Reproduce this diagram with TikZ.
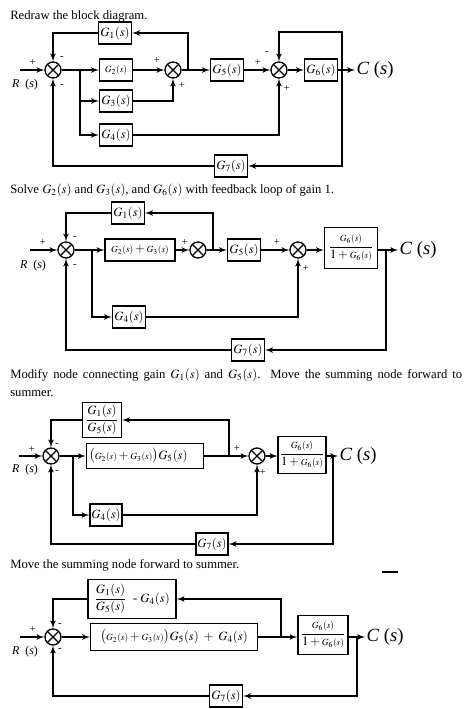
\documentclass[tikz,border=0pt]{standalone}
\usepackage{mathptmx}
\usepackage{fontspec}
\setmainfont{Liberation Serif}
\usetikzlibrary{arrows}
\tikzstyle{B} = [rectangle,
			draw, line width=1pt,
			minimum width=24.75pt, minimum height=16.5pt,
			inner sep=1pt]
\tikzstyle{S} = [circle,
			draw, line width=1pt,
			minimum size=12pt, inner sep=0pt,
			path picture={\draw[line width=1pt]
				(path picture bounding box.north west) -- (path picture bounding box.south east)
				(path picture bounding box.north east) -- (path picture bounding box.south west);}]
\tikzstyle{T} = [anchor=west, inner sep=0pt]
\tikzstyle{N} = [inner sep=0pt, font=\footnotesize]
\tikzstyle{O} = [anchor=west, inner sep=1pt, font=\fontsize{14}{16}\selectfont]
\tikzstyle{I} = [inner sep=0pt, font=\small]
\tikzstyle{L} = [draw, -latex', line width=1pt]
\newcommand{\clfrac}{$\displaystyle\frac{\scriptstyle G_6(s)}{1+{\scriptstyle G_6(s)}}$}

\begin{document}
\begin{tikzpicture}[x=0.75pt, y=-0.75pt, font=\fontsize{9.5}{11}\selectfont]

\useasboundingbox (0,0) rectangle (474,709);

% --- redraw ---
\node [T] (tta) at (10,16) {Redraw the block diagram.};

\coordinate (ina) at (20,70);
\node [S] (sa1) at (53,70) {};
\node [B] (ga1) at (115,33) {$G_1(s)$};
\node [B] (ga2) at (116,70) {$\scriptstyle G_2(s)$};
\node [B] (ga3) at (116,101) {$G_3(s)$};
\node [B] (ga4) at (116,135) {$G_4(s)$};
\node [S] (sa2) at (173,70) {};
\node [B] (ga5) at (227,70) {$G_5(s)$};
\node [S] (sa3) at (279,70) {};
\node [B] (ga6) at (321,70) {$G_6(s)$};
\node [O] (ca) at (355,70) {\textit{C}~(\textit{s})};
\node [B] (ga7) at (231,166) {$G_7(s)$};
\coordinate (ja1) at (80,70);
\coordinate (ja2) at (188,70);
\coordinate (ja3) at (342,70);
\coordinate (ja4) at (342,32);

\node [I] at (25,85) {\textit{R}\enspace(\textit{s})};
\node [N] at (33,62) {+};
\node [N] at (62,58) {-};
\node [N] at (62,86) {-};
\node [N] at (157,60) {+};
\node [N] at (182,85) {+};
\node [N] at (258,62) {+};
\node [N] at (267,53) {-};
\node [N] at (287,88) {+};

\path[L] (ina) -- (sa1);
\path[L] (sa1) -- (ga2);
\path[L] (ja1) |- (ga3);
\path[L] (ja1) |- (ga4);
\path[L] (ga2) -- (sa2);
\path[L] (ga3) -| (sa2);
\path[L] (sa2) -- (ga5);
\path[L] (ja2) |- (ga1);
\path[L] (ga1) -| (sa1);
\path[L] (ga5) -- (sa3);
\path[L] (ga4) -| (sa3);
\path[L] (sa3) -- (ga6);
\path[L] (ga6) -- (ca);
\path[L] (ja3) -- (ja4) -| (sa3);
\path[L] (ja3) |- (ga7);
\path[L] (ga7) -| (sa1);

% --- solve ---
\node [T] (ttb) at (10,190) {Solve $G_2(s)$ and $G_3(s)$, and $G_6(s)$ with feedback loop of gain 1.};

\coordinate (inb) at (30,250);
\node [S] (sb1) at (66,250) {};
\node [B] (gb1) at (128,213) {$G_1(s)$};
\node [B, minimum width=52.5pt] (gb23) at (140,250) {${\scriptstyle G_2(s)}+{\scriptstyle G_3(s)}$};
\node [S] (sb2) at (198,250) {};
\node [B] (gb5) at (244,250) {$G_5(s)$};
\node [S] (sb3) at (298,250) {};
\node [B, minimum width=39.75pt, minimum height=30.75pt] (gb6) at (351,248) {\clfrac};
\node [O] (cb) at (398,250) {\textit{C}~(\textit{s})};
\node [B] (gb4) at (129,317) {$G_4(s)$};
\node [B] (gb7) at (248,350) {$G_7(s)$};
\coordinate (jb1) at (92,250);
\coordinate (jb2) at (213,250);
\coordinate (jb3) at (386,250);

\node [I] at (33,266) {\textit{R}\enspace(\textit{s})};
\node [N] at (43,242) {+};
\node [N] at (75,238) {-};
\node [N] at (75,266) {-};
\node [N] at (185,242) {+};
\node [N] at (277,242) {+};
\node [N] at (306,268) {+};

\path[L] (inb) -- (sb1);
\path[L] (sb1) -- (gb23);
\path[L] (jb1) |- (gb4);
\path[L] (gb23) -- (sb2);
\path[L] (sb2) -- (gb5);
\path[L] (jb2) |- (gb1);
\path[L] (gb1) -| (sb1);
\path[L] (gb5) -- (sb3);
\path[L] (gb4) -| (sb3);
\path[L] (sb3) -- (sb3 -| gb6.west);
\path[L] (sb3 -| gb6.east) -- (cb);
\path[L] (jb3) |- (gb7);
\path[L] (gb7) -| (sb1);

% --- modify ---
\node [T, anchor=north west, text width=339pt, align=justify,
	font=\fontsize{9.5}{13.5}\selectfont] (ttc) at (10,369)
	{Modify node connecting gain $G_1(s)$ and $G_5(s)$. Move the summing node forward to\linebreak summer.};

\coordinate (inc) at (19,456);
\node [S] (sc1) at (51,456) {};
\node [B, minimum width=29.25pt, minimum height=26.25pt] (gc15) at (102,420) {$\displaystyle\frac{G_1(s)}{G_5(s)}$};
\node [B, text width=84pt, minimum height=18.75pt, align=left, inner sep=2pt] (gc235) at (145,456) {$\bigl({\scriptstyle G_2(s)}+{\scriptstyle G_3(s)}\bigr)G_5(s)$};
\node [S] (sc2) at (257,456) {};
\node [B, minimum width=35.25pt, minimum height=27.75pt] (gc6) at (302,455) {\clfrac};
\node [O] (cc) at (338,456) {\textit{C}~(\textit{s})};
\node [B, minimum width=21.75pt] (gc4) at (106,515) {$G_4(s)$};
\node [B, minimum width=22.5pt] (gc7) at (212,544) {$G_7(s)$};
\coordinate (jc1) at (73,456);
\coordinate (jc2) at (229,456);
\coordinate (jc3) at (333,456);

\node [I] at (25,470) {\textit{R}\enspace(\textit{s})};
\node [N] at (32,449) {+};
\node [N] at (57,445) {-};
\node [N] at (57,472) {-};
\node [N] at (237,448) {+};
\node [N] at (263,472) {+};

\path[L] (inc) -- (sc1);
\path[L] (sc1) -- (gc235);
\path[L] (jc1) |- (gc4);
\path[L] (gc235) -- (sc2);
\path[L] (jc2) |- (gc15);
\path[L] (gc15) -| (sc1);
\path[L] (gc4) -| (sc2);
\path[L] (sc2) -- (sc2 -| gc6.west);
\path[L] (sc2 -| gc6.east) -- (cc);
\path[L] (jc3) |- (gc7);
\path[L] (gc7) -| (sc1);

% --- move ---
\node [T] (ttd) at (10,565) {Move the summing node forward to summer.};
\draw [line width=1pt] (382,572) -- (398,572);

\coordinate (ind) at (20,637);
\node [S] (sd1) at (53,637) {};
\node [B, minimum width=66pt, minimum height=29.25pt] (gd15) at (132,599) {$\displaystyle\frac{G_1(s)}{G_5(s)}$\enspace- $G_4(s)$};
\node [B, minimum width=125.25pt, minimum height=20.25pt] (gd2354) at (174,637) {$\bigl({\scriptstyle G_2(s)}+{\scriptstyle G_3(s)}\bigr)G_5(s)\ +\ G_4(s)$};
\node [B, minimum width=37.5pt, minimum height=29.25pt] (gd6) at (323,635) {\clfrac};
\node [O] (cd) at (365,637) {\textit{C}~(\textit{s})};
\node [B] (gd7) at (226,696) {$G_7(s)$};
\coordinate (jd1) at (281,637);
\coordinate (jd2) at (357,637);

\node [I] at (25,652) {\textit{R}\enspace(\textit{s})};
\node [N] at (33,629) {+};
\node [N] at (60,625) {-};
\node [N] at (60,650) {-};

\path[L] (ind) -- (sd1);
\path[L] (sd1) -- (gd2354);
\path[L] (gd2354) -- (gd2354 -| gd6.west);
\path[L] (jd1) |- (gd15);
\path[L] (gd15) -| (sd1);
\path[L] (gd6.east |- jd2) -- (cd);
\path[L] (jd2) |- (gd7);
\path[L] (gd7) -| (sd1);

\end{tikzpicture}
\end{document}
